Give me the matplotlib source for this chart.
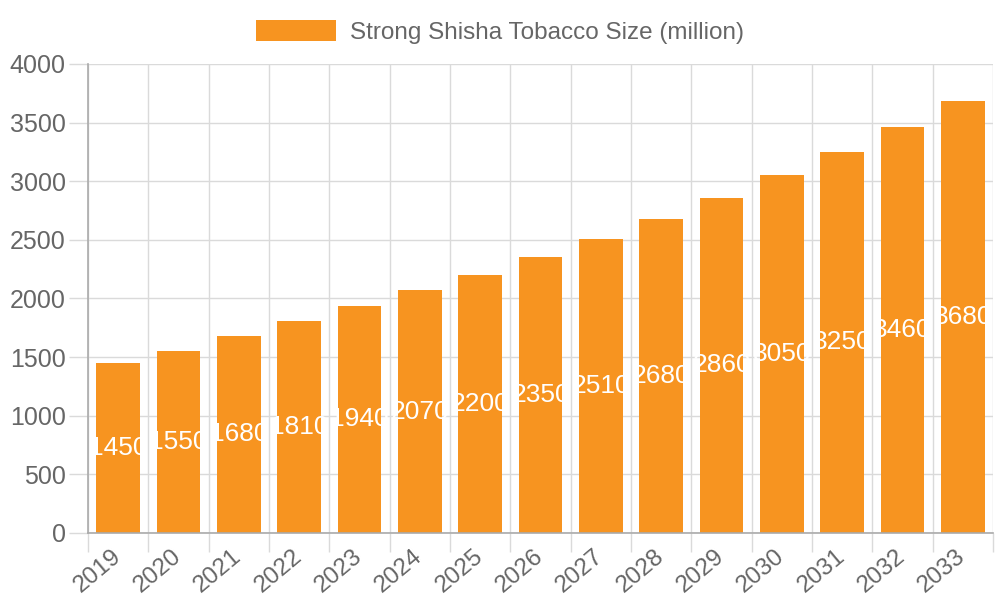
import numpy as np
import matplotlib
matplotlib.use('Agg')
import matplotlib.pyplot as plt
from matplotlib.patches import Patch

plt.rcParams['font.family'] = ['Liberation Sans', 'DejaVu Sans']

# data
years = ['2019', '2020', '2021', '2022', '2023', '2024', '2025', '2026',
         '2027', '2028', '2029', '2030', '2031', '2032', '2033']
sizes = [1450, 1550, 1680, 1810, 1940, 2070, 2200, 2350,
         2510, 2680, 2860, 3050, 3250, 3460, 3680]
series_name = 'Strong Shisha Tobacco Size (million)'

bar_color = '#F79420'
text_color = '#666666'
grid_color = '#dadada'
axis_color = '#aaaaaa'

fig = plt.figure(figsize=(10, 6), dpi=100)
ax = fig.add_axes([0.088, 0.1117, 0.905, 0.7817])

x = np.arange(len(years))
bars = ax.bar(x, sizes, width=0.72, color=bar_color, zorder=2)

# value labels in the middle of each bar
for b, v in zip(bars, sizes):
    ax.text(b.get_x() + b.get_width() / 2, v / 2, str(v), color='white',
            fontsize=19, ha='center', va='center', zorder=3)

ax.set_xlim(-0.5, len(years) - 0.5)
ax.set_ylim(0, 4000)
ax.set_yticks(np.arange(0, 4001, 500))

# category labels on major ticks, grid on the boundaries (minor ticks)
ax.set_xticks(x)
ax.set_xticklabels(years, rotation=40, ha='right', va='center',
                   rotation_mode='anchor')
ax.set_xticks(np.arange(-0.5, len(years)), minor=True)
ax.tick_params(axis='x', which='major', length=0, pad=15,
               labelsize=17.5, labelcolor=text_color)
ax.tick_params(axis='x', which='minor', length=14, width=1, color=grid_color)
ax.tick_params(axis='y', length=14, width=1, color=grid_color, pad=2,
               labelsize=18, labelcolor=text_color)

ax.grid(True, axis='y', color=grid_color, linewidth=1, zorder=0)
ax.grid(True, axis='x', which='minor', color=grid_color, linewidth=1, zorder=0)
ax.grid(False, axis='x', which='major')
ax.set_axisbelow(True)

for side in ['top', 'right']:
    ax.spines[side].set_visible(False)
for side in ['left', 'bottom']:
    ax.spines[side].set_color(axis_color)
    ax.spines[side].set_linewidth(1.2)

handle = Patch(facecolor=bar_color, edgecolor='none')
leg = fig.legend([handle], [series_name], loc='center',
                 bbox_to_anchor=(0.5, 0.947), frameon=False, fontsize=17.5,
                 handlelength=3.3, handleheight=1.0, handletextpad=0.55)
for t in leg.get_texts():
    t.set_color(text_color)

fig.savefig('out.png', dpi=100)
